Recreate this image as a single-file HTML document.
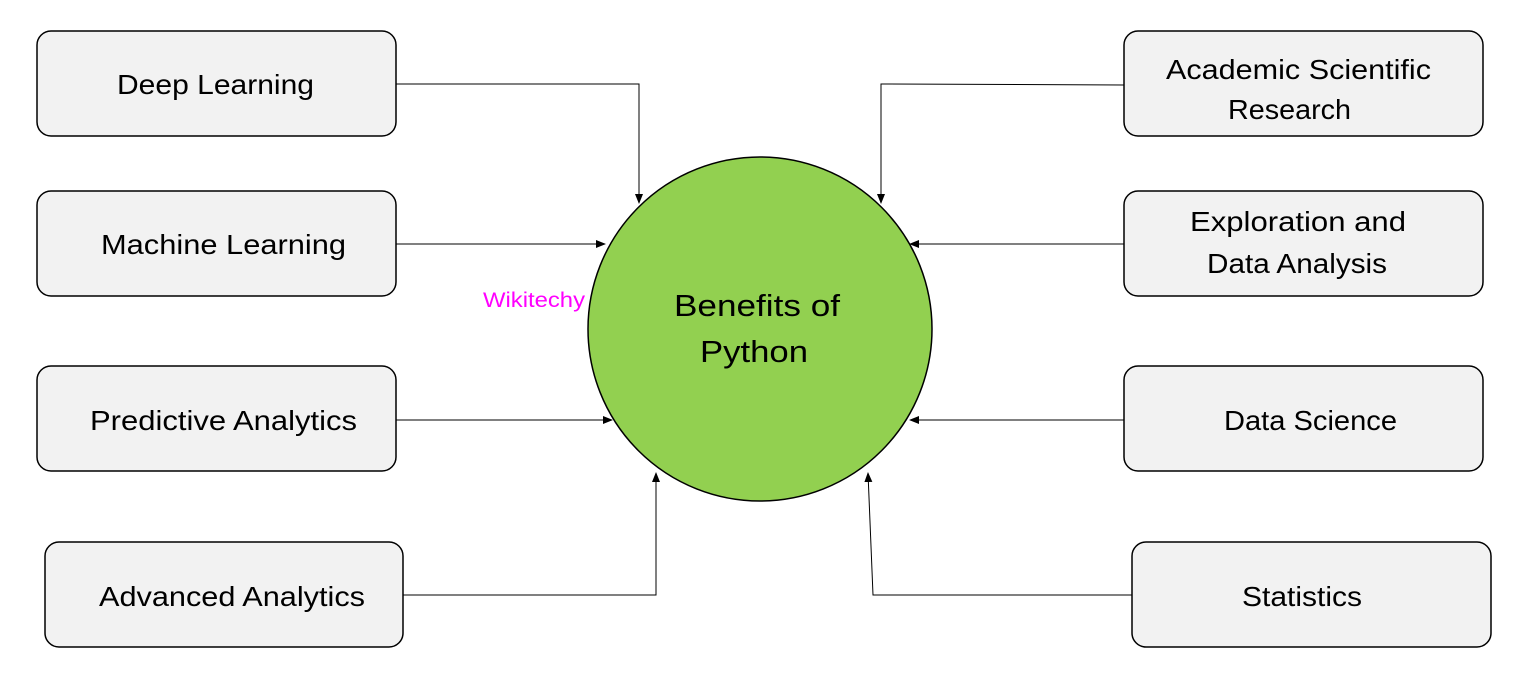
<!DOCTYPE html>
<html><head><meta charset="utf-8"><style>
html,body{margin:0;padding:0;background:#fff;}
body{width:1526px;height:679px;position:relative;overflow:hidden;font-family:"Liberation Sans",sans-serif;}
</style></head><body>
<svg width="1526" height="679" viewBox="0 0 1526 679" xmlns="http://www.w3.org/2000/svg" style="position:absolute;left:0;top:0">
<defs><marker id="a" markerWidth="10" markerHeight="10" refX="9" refY="5" orient="auto" markerUnits="userSpaceOnUse"><path d="M0,1 L10,5 L0,9 Z" fill="#000"/></marker></defs>
<g fill="#f2f2f2" stroke="#000" stroke-width="1.5">
<rect x="37" y="31" width="359" height="105" rx="14"/>
<rect x="37" y="191" width="359" height="105" rx="14"/>
<rect x="37" y="366" width="359" height="105" rx="14"/>
<rect x="45" y="542" width="358" height="105" rx="14"/>
<rect x="1124" y="31" width="359" height="105" rx="14"/>
<rect x="1124" y="191" width="359" height="105" rx="14"/>
<rect x="1124" y="366" width="359" height="105" rx="14"/>
<rect x="1132" y="542" width="359" height="105" rx="14"/>
</g>
<circle cx="760" cy="329" r="172" fill="#92d050" stroke="#000" stroke-width="1.5"/>
<g fill="none" stroke="#000" stroke-width="1" marker-end="url(#a)">
<polyline points="396,84 639,84 639,203"/>
<polyline points="396,244 605,244"/>
<polyline points="396,420 612,420"/>
<polyline points="403,595 656,595 656,473"/>
<polyline points="1124,85 881,84 881,203"/>
<polyline points="1124,244 910,244"/>
<polyline points="1124,420 910,420"/>
<polyline points="1132,595 873,595 868,473"/>
</g>
<g font-family="Liberation Sans, sans-serif" font-size="28" fill="#000" lengthAdjust="spacingAndGlyphs">
<text x="117" y="94" textLength="197" lengthAdjust="spacingAndGlyphs">Deep Learning</text>
<text x="101" y="254" textLength="245" lengthAdjust="spacingAndGlyphs">Machine Learning</text>
<text x="90" y="430" textLength="267" lengthAdjust="spacingAndGlyphs">Predictive Analytics</text>
<text x="99" y="606" textLength="266" lengthAdjust="spacingAndGlyphs">Advanced Analytics</text>
<text x="1166" y="79" textLength="265" lengthAdjust="spacingAndGlyphs">Academic Scientific</text>
<text x="1228" y="119" textLength="123" lengthAdjust="spacingAndGlyphs">Research</text>
<text x="1190" y="231" textLength="216" lengthAdjust="spacingAndGlyphs">Exploration and</text>
<text x="1207" y="273" textLength="180" lengthAdjust="spacingAndGlyphs">Data Analysis</text>
<text x="1224" y="430" textLength="173" lengthAdjust="spacingAndGlyphs">Data Science</text>
<text x="1242" y="606" textLength="120" lengthAdjust="spacingAndGlyphs">Statistics</text>
<text x="674" y="316" font-size="31" textLength="166" lengthAdjust="spacingAndGlyphs">Benefits of</text>
<text x="700" y="362" font-size="31" textLength="108" lengthAdjust="spacingAndGlyphs">Python</text>
</g>
<text x="483" y="307" font-family="Liberation Sans, sans-serif" font-size="21" fill="#ff00ff" textLength="102" lengthAdjust="spacingAndGlyphs">Wikitechy</text>
</svg>
</body></html>
